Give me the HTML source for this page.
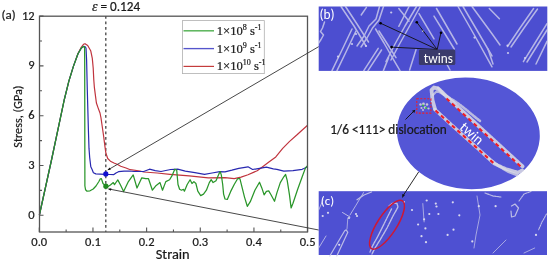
<!DOCTYPE html>
<html><head><meta charset="utf-8"><style>
html,body{margin:0;padding:0;background:#fff;}
body{width:550px;height:261px;overflow:hidden;position:relative;}
svg{position:absolute;left:0;top:0;}
text{font-family:Carlito,"Liberation Sans",sans-serif;fill:#1a1a1a;stroke:#1a1a1a;stroke-width:0.22px;}
.serif text,tspan.eps{font-family:"Liberation Serif",serif;}
</style></head><body>
<svg width="550" height="261" viewBox="0 0 550 261">
<defs><filter id="soft" x="-5%" y="-5%" width="110%" height="110%"><feGaussianBlur stdDeviation="0.35"/></filter><filter id="soft2" x="-5%" y="-5%" width="110%" height="110%"><feGaussianBlur stdDeviation="0.5"/></filter></defs>
<!-- plot (a) -->
<g font-size="12.5">
<text x="39.3" y="245.5" text-anchor="middle" textLength="15.83" lengthAdjust="spacingAndGlyphs">0.0</text><text x="93.0" y="245.5" text-anchor="middle" textLength="15.83" lengthAdjust="spacingAndGlyphs">0.1</text><text x="146.6" y="245.5" text-anchor="middle" textLength="15.83" lengthAdjust="spacingAndGlyphs">0.2</text><text x="200.3" y="245.5" text-anchor="middle" textLength="15.83" lengthAdjust="spacingAndGlyphs">0.3</text><text x="253.9" y="245.5" text-anchor="middle" textLength="15.83" lengthAdjust="spacingAndGlyphs">0.4</text><text x="307.6" y="245.5" text-anchor="middle" textLength="15.83" lengthAdjust="spacingAndGlyphs">0.5</text>
<text x="34.6" y="218.8" text-anchor="end">0</text><text x="34.6" y="169.0" text-anchor="end">3</text><text x="34.6" y="119.2" text-anchor="end">6</text><text x="34.6" y="69.4" text-anchor="end">9</text><text x="34.6" y="19.6" text-anchor="end">12</text>
</g>
<text x="1.6" y="19.2" font-size="13">(a)</text>
<text x="172.7" y="258.9" font-size="14.4" text-anchor="middle" textLength="34" lengthAdjust="spacingAndGlyphs">Strain</text>
<text transform="translate(22.2,116.6) rotate(-90)" font-size="12.2" text-anchor="middle" textLength="62.1" lengthAdjust="spacingAndGlyphs">Stress, (GPa)</text>
<text x="116.1" y="10.9" font-size="13.2" text-anchor="middle" textLength="48.1" lengthAdjust="spacingAndGlyphs"><tspan class="eps" font-size="14" font-style="italic">ε</tspan> = 0.124</text>
<path d="M39.30 232v-4.5M66.13 232v-2.5M92.96 232v-4.5M119.79 232v-2.5M146.62 232v-4.5M173.45 232v-2.5M200.28 232v-4.5M227.11 232v-2.5M253.94 232v-4.5M280.77 232v-2.5M307.60 232v-4.5M39.5 215.30h4M39.5 190.40h2.5M39.5 165.50h4M39.5 140.60h2.5M39.5 115.70h4M39.5 90.80h2.5M39.5 65.90h4M39.5 41.00h2.5M39.5 16.10h4" stroke="#555" stroke-width="1.1" fill="none"/>
<line x1="105.8" y1="16" x2="105.8" y2="232" stroke="#444" stroke-width="1.3" stroke-dasharray="2.8 2.7"/>
<polyline points="39.4,215.0 51.5,160.0 64.2,100.0 68.8,81.4 73.4,66.4 78.0,53.5 81.4,47.0 83.5,44.3 85.0,43.7 87.7,45.5 90.7,50.7 92.3,58.4 93.2,68.0 93.8,80.0 94.4,87.7 95.4,95.3 96.4,103.0 98.0,107.6 100.0,113.0 101.0,118.0 102.3,127.0 103.6,136.0 105.0,146.8 105.9,153.1 107.7,158.5 110.4,161.2 114.0,163.0 117.6,164.5 120.7,166.3 126.0,168.0 130.3,169.7 140.0,171.0 143.7,172.0 157.1,173.0 170.0,174.3 189.2,175.9 208.3,177.8 225.0,177.6 234.2,178.7 241.1,177.1 248.0,174.8 257.2,170.7 262.0,167.2 268.9,162.1 275.8,156.9 282.7,148.3 289.6,141.4 296.5,135.3 302.0,130.2 307.3,125.5" fill="none" stroke="#c0343e" stroke-width="1.2" stroke-linejoin="round"/>
<polyline points="39.4,215.0 51.5,160.0 64.2,100.0 68.8,81.4 73.4,66.4 78.0,53.8 81.4,48.0 83.5,46.4 85.0,46.5 86.0,48.0 86.6,60.0 87.3,90.0 88.4,130.0 89.0,148.4 89.7,157.6 90.8,166.8 92.1,169.5 93.4,172.8 95.8,173.9 100.4,174.1 105.8,174.4 110.0,174.5 113.9,174.6 116.0,173.0 118.5,171.7 124.0,171.1 129.0,171.0 134.2,171.5 143.7,171.5 149.5,169.2 155.2,170.7 161.0,171.5 170.6,169.5 177.7,169.2 185.3,171.1 194.9,172.6 204.5,174.3 212.1,173.0 219.8,171.6 225.0,171.8 231.9,170.2 238.8,168.4 248.0,166.8 252.6,169.5 259.5,168.4 266.4,167.2 273.3,168.9 276.9,169.3 283.8,171.1 293.0,170.6 302.2,169.3 307.3,167.0" fill="none" stroke="#2828b0" stroke-width="1.2" stroke-linejoin="round"/>
<polyline points="39.4,215.0 51.5,160.0 64.2,100.0 68.8,81.4 73.4,66.4 78.0,53.8 81.4,48.0 83.3,46.5 84.2,46.7 84.6,48.0 84.7,60.0 84.9,186.0 85.6,189.8 87.0,191.2 90.0,190.8 93.2,189.0 96.0,186.0 98.9,181.5 100.3,178.8 101.4,178.6 103.0,183.5 105.8,186.1 108.0,186.5 110.4,185.0 113.3,182.6 114.5,184.6 116.3,182.0 117.8,179.9 120.5,185.0 123.6,191.6 128.4,181.6 133.2,174.9 137.0,188.0 141.8,177.8 145.7,178.7 148.5,178.7 152.4,190.2 156.2,185.4 160.0,182.6 162.5,190.2 165.8,181.6 169.6,179.7 171.9,175.9 174.8,169.2 176.7,170.1 178.0,184.5 179.6,189.3 181.5,190.2 183.4,189.3 184.4,191.2 187.2,184.5 190.1,179.7 192.0,183.5 193.9,181.6 195.9,183.5 197.8,191.2 200.7,195.6 203.5,194.1 206.4,190.2 209.3,182.6 211.2,179.7 213.1,182.6 216.0,180.7 218.9,173.9 220.2,171.6 221.3,174.9 222.7,184.5 223.6,194.1 225.0,199.0 227.3,199.4 230.7,191.4 234.2,184.5 237.6,178.7 239.9,178.7 242.2,187.9 244.5,197.1 247.3,206.3 250.3,201.7 254.9,190.2 259.5,182.2 261.8,187.9 264.1,194.8 266.4,191.4 268.7,190.9 271.0,194.8 274.5,201.3 276.9,192.9 280.3,182.6 283.8,176.8 285.6,174.5 287.2,180.3 289.5,195.2 291.1,207.9 293.0,203.3 297.6,189.5 302.2,176.8 305.6,167.6 307.3,166.0" fill="none" stroke="#2a962a" stroke-width="1.25" stroke-linejoin="round"/>
<rect x="39.5" y="16.2" width="268" height="215.8" fill="none" stroke="#555" stroke-width="1.3"/>
<circle cx="105.8" cy="173.9" r="2.6" fill="#1010d0"/>
<circle cx="105.9" cy="186.2" r="2.6" fill="#238a23"/>
<!-- legend -->
<rect x="182.5" y="20.6" width="81.8" height="53" fill="#fff" stroke="#b0b0b0" stroke-width="0.8"/>
<line x1="183.5" y1="30.8" x2="214" y2="30.8" stroke="#5ab45a" stroke-width="1.5"/>
<line x1="183.5" y1="48.6" x2="214" y2="48.6" stroke="#5555cc" stroke-width="1.35"/>
<line x1="183.5" y1="66.4" x2="214" y2="66.4" stroke="#c43c3c" stroke-width="1.2"/>
<g font-size="12.6" class="serif">
<text x="216.8" y="35">1×10<tspan font-size="8" dy="-5">8</tspan><tspan dy="5"> s</tspan><tspan font-size="8" dy="-5">-1</tspan></text>
<text x="216.8" y="52.6">1×10<tspan font-size="8" dy="-5">9</tspan><tspan dy="5"> s</tspan><tspan font-size="8" dy="-5">-1</tspan></text>
<text x="216.8" y="70.3">1×10<tspan font-size="8" dy="-5">10</tspan><tspan dy="5"> s</tspan><tspan font-size="8" dy="-5">-1</tspan></text>
</g>
<!-- connectors -->
<line x1="107.8" y1="170" x2="318.8" y2="46.6" stroke="#333" stroke-width="0.9"/>
<line x1="108.4" y1="188.9" x2="318.7" y2="230" stroke="#333" stroke-width="0.9"/>
<path d="M107.6 170.1L110.86 169.72L109.54 167.48ZM108.2 188.9L111.39 188.2L110.89 190.76Z" fill="#111"/>
<!-- panel b -->
<rect x="318.7" y="6.5" width="228.6" height="64.4" fill="#4c4ed0"/>
<g fill="none" stroke="#d8d8ee" stroke-width="1.5" stroke-linecap="round" stroke-linejoin="round" opacity="0.75" filter="url(#soft2)">
<polyline points="341,6.5 354,26 366,46" />
<polyline points="345.5,6.5 357,24 368.5,42" />
<polyline points="352,29 342,50 332,70.6" />
<polyline points="356,31 346,52 337,70.6" />
<polyline points="379.5,6.5 376,19 369,26 364,36 357,46" />
<polyline points="383.5,6.5 379,20 372.5,28 367,38 361,47" />
<polyline points="375.6,29 384,43 393.8,60.2 400,70.6" />
<polyline points="379,31 388,45 396,57.6" />
<polyline points="378.2,48.4 363.8,70.6" />
<polyline points="381.5,50 368,70.6" />
<polyline points="416.5,6.5 405,26 395,44 386,61.7" />
<polyline points="420,7 409,27 399,45 391,60" />
<polyline points="409,6.5 398.8,26.3" />
<polyline points="419,13.6 434,38.9" />
<polyline points="398.8,8.5 409,21.2" />
<polyline points="388.6,57.6 383.4,70.6" />
<polyline points="434,16.1 454.3,49" />
<polyline points="436.5,8.5 457,44" />
<polyline points="458,6.5 476,38 492,66.8" />
<polyline points="463,6.5 478,32 492,56" />
<polyline points="472,6.5 492,33.8 500,45" />
<polyline points="533.6,8.5 520,28 507.5,46.5" />
<polyline points="537.5,9 524,28 511,47" />
<polyline points="547,23.7 535,43 523.4,61.7" />
<polyline points="547,30 537,46 527,62" />
<polyline points="547,41.4 536,64" />
<polyline points="489.3,8.5 499.4,18.7" />
<polyline points="488,49 493,64" />
<polyline points="324.5,22 322.5,28 320.5,31.5 323.5,35 321,39.5 318.7,43" />
<polyline points="361.2,15 366.4,7.3" />
<polyline points="444,59 450,70" />
<polyline points="416,49.7 409.6,70" />
</g>
<g fill="#dcdcf0" opacity="0.85" filter="url(#soft)"><circle cx="352" cy="44" r="1.1"/><circle cx="338" cy="56.6" r="1.1"/><circle cx="474.5" cy="37.6" r="1.1"/><circle cx="508" cy="53" r="1.1"/><circle cx="391.2" cy="12.5" r="1.1"/><circle cx="507.5" cy="45.5" r="1.1"/><circle cx="525" cy="58" r="1.1"/><circle cx="366" cy="46" r="1.1"/><circle cx="356" cy="34" r="1.1"/><circle cx="423" cy="31" r="1.1"/></g>
<text x="319.4" y="19.2" font-size="13.4" style="fill:#fff;stroke:none">(b)</text>
<g stroke="#111" stroke-width="0.9" fill="none">
<path d="M437.2 49.5L380.1 23M437.2 49.5L391.2 47.1M437.2 49.5L416.5 21.9M437.2 49.5L441 32.6"/>
</g>
<g fill="#000"><circle cx="380.6" cy="23.2" r="1.3"/><circle cx="391.6" cy="47.1" r="1.3"/><circle cx="416.8" cy="22.2" r="1.3"/><circle cx="441" cy="32.8" r="1.3"/></g>
<rect x="418.9" y="49.6" width="36.4" height="15.5" rx="1.5" fill="#38385c" opacity="0.88"/>
<text x="423.7" y="62.9" font-size="13.6" style="fill:#fff;stroke:none" textLength="29.2" lengthAdjust="spacingAndGlyphs">twins</text>
<!-- ellipse -->
<ellipse cx="468.4" cy="133.3" rx="71.5" ry="55.7" transform="rotate(5 468.4 133.3)" fill="#5456d6"/>
<g fill="none" stroke="#dcdce4" stroke-linecap="round" stroke-linejoin="round" filter="url(#soft)">
<polyline points="435,109 432.5,100 431.5,90 434,87.5 438,88.5 442,92 447.5,97.5 485,132 523,166.8" stroke-width="3.8" stroke-dasharray="1.3 0.8" opacity="0.85"/>
<polyline points="435,109.5 450,123.5 465,137 480,150.5 494,163.5 506,169 517.9,172.5 522.5,170" stroke-width="3.4" stroke-dasharray="1.3 0.8" opacity="0.85"/>
<polyline points="433,95 437,91 444,95" stroke-width="2" opacity="0.7"/>
<polyline points="438,87.7 444,94.4 450,98.2 457.6,103 465,108.7 473,115.4 480,121" stroke-width="2.6" stroke-dasharray="1 1.2" opacity="0.75"/>
<polyline points="486,156 498,165.5 508,171.5 517,175" stroke-width="2.8" stroke-dasharray="1 1.1" opacity="0.75"/>
</g>
<g stroke="#f01c24" stroke-width="2.1" stroke-dasharray="4 3.4" fill="none">
<line x1="446.5" y1="98.5" x2="522" y2="167.6"/>
<line x1="435.5" y1="110.5" x2="494" y2="163.5"/>
<rect x="416.8" y="98.8" width="14.1" height="14.3" stroke-width="1.1" stroke-dasharray="2 1.5"/>
</g>
<g fill="#c8c8d8" filter="url(#soft)"><circle cx="420.5" cy="104.5" r="1.2"/><circle cx="423.5" cy="104" r="1.4"/><circle cx="427" cy="104.5" r="1.3"/><circle cx="421.5" cy="108" r="1.1"/><circle cx="425" cy="107.5" r="1.3"/><circle cx="428.5" cy="108.5" r="1.1"/><circle cx="423" cy="110" r="0.9"/></g>
<circle cx="423" cy="105.5" r="0.9" fill="#30c030"/><circle cx="426" cy="108" r="0.9" fill="#30c030"/>
<text transform="translate(472,133.2) rotate(41)" font-size="14.5" text-anchor="middle" dominant-baseline="central" style="fill:#fff;stroke:none" textLength="26.2" lengthAdjust="spacingAndGlyphs">twin</text>
<line x1="405.5" y1="119.5" x2="413.6" y2="111.4" stroke="#111" stroke-width="0.9"/>
<path d="M415.3 109.7 l-3.3 1 l2.3 2.3z" fill="#111"/>
<!-- panel c -->
<rect x="318.7" y="191.2" width="228.3" height="63.8" fill="#4e50d2"/>
<g fill="none" stroke="#d0d0ea" stroke-linecap="round" stroke-linejoin="round" filter="url(#soft)" opacity="0.85">
<polyline points="390.5,205 393.5,203 397,203.5 398,207 393,216 387,228 380,240 375,248 372,254" stroke-width="1.4" stroke-dasharray="2 0.8"/>
<polyline points="391.5,209 385,222 378,236 372.5,246 370,252" stroke-width="1.4" stroke-dasharray="2 0.8"/>
<polyline points="389,206 392,203.5" stroke-width="1.2"/>
<polyline points="329.8,256 344.7,230.7 346.2,229.9 347.8,232.3 336.8,256" stroke-width="1.2"/>
<polyline points="347.8,218 347,229" stroke-width="0.8"/>
<polyline points="363.6,192.5 356,205.2 350,215" stroke-width="0.9"/>
<polyline points="357,199.7 364,195 371.5,192" stroke-width="1.3"/>
<polyline points="342.5,212.5 350,217" stroke-width="1"/>
<polyline points="323,200 318.7,210" stroke-width="0.9"/>
<polyline points="318.7,248 326,236" stroke-width="0.9"/>
<polyline points="422.8,203.6 424.1,221.9" stroke-width="0.8"/>
<polyline points="477,196 480,215 476,235 474,248" stroke-width="0.8"/>
<polyline points="511.5,206 515,204 518.5,208 515,216 511.5,217 511,211" stroke-width="1.2"/>
<polyline points="485,193 493,196 501,197" stroke-width="1.2" stroke-dasharray="1.5 1"/>
<polyline points="519,201 524,194 531,191.5" stroke-width="1.1" stroke-dasharray="1.5 1"/>
<polyline points="546.5,214 542,222 538.6,229.7" stroke-width="1.1" stroke-dasharray="1.5 1"/>
<polyline points="493,253 500,246 506,240" stroke-width="0.8"/>
<polyline points="524,253 534.7,248" stroke-width="0.8"/>
</g>
<g fill="#d8d8ee" filter="url(#soft)"><circle cx="426.7" cy="200.5" r="1.1"/><circle cx="435.8" cy="203.6" r="1.1"/><circle cx="436.5" cy="206.5" r="1.1"/><circle cx="452.8" cy="202.3" r="1.1"/><circle cx="438.4" cy="214" r="1.1"/><circle cx="429.3" cy="214" r="1.1"/><circle cx="424.1" cy="219.3" r="1.1"/><circle cx="418.1" cy="224.5" r="1.1"/><circle cx="425.4" cy="228.4" r="1.1"/><circle cx="421.5" cy="236.2" r="1.1"/><circle cx="426" cy="242.2" r="1.1"/><circle cx="447.6" cy="234.9" r="1.1"/><circle cx="453.5" cy="229.7" r="1.1"/><circle cx="459.3" cy="215.3" r="1.1"/><circle cx="472.3" cy="241.4" r="1.1"/><circle cx="478.8" cy="206.2" r="1.1"/><circle cx="495.6" cy="206.2" r="1.1"/><circle cx="536" cy="234.9" r="1.1"/><circle cx="328" cy="212.8" r="1.1"/><circle cx="356" cy="214" r="1.1"/><circle cx="357" cy="216" r="1.1"/><circle cx="349" cy="218" r="1.1"/><circle cx="404" cy="202" r="1.1"/><circle cx="412" cy="210" r="1.1"/><circle cx="339.2" cy="244.8" r="1.1"/><circle cx="322.7" cy="216" r="1.1"/></g>
<ellipse cx="387" cy="224.7" rx="28.4" ry="9.6" transform="rotate(-57 387 224.7)" fill="none" stroke="#cc1836" stroke-width="1.5"/>
<text x="320.8" y="204.6" font-size="13" style="fill:#fff;stroke:none">(c)</text>
<line x1="418.6" y1="172" x2="403.2" y2="195.5" stroke="#111" stroke-width="0.9"/>
<path d="M402.2 198 l0.1 -4 l2.7 1.1z" fill="#111"/>
<text x="330.3" y="133.9" font-size="13.3" textLength="116.5" lengthAdjust="spacingAndGlyphs">1/6 &lt;111&gt; dislocation</text>
</svg>
</body></html>
